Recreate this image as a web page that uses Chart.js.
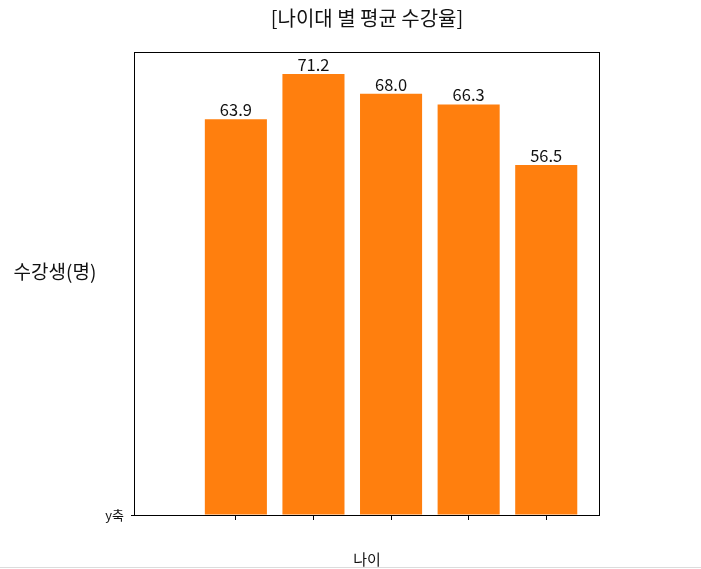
<!DOCTYPE html>
<html>
<head>
<meta charset="utf-8">
<script src="https://cdn.jsdelivr.net/npm/chart.js@4.4.0/dist/chart.umd.min.js"></script>
<style>
  html, body { margin: 0; padding: 0; background: #fff; }
  #wrap { position: relative; width: 701px; height: 569px; }
  #bottomLine { position: absolute; left: 0; top: 567px; width: 701px; height: 1px; background: #dcdcdc; }
</style>
</head>
<body>
<div id="wrap">
  <canvas id="chart" width="701" height="569"></canvas>
  <div id="bottomLine"></div>
</div>
<script>
// Chart data
const barPositions = [0, 1, 2, 3, 4];
const avgRates = [63.9, 71.2, 68.0, 66.3, 56.5];
const xTickLabels = ['', '', '', '', ''];
const yTickValues = [0];
const yTickLabels = ['y축'];

const FONT = '"Noto Sans CJK KR", "Noto Sans", sans-serif';

// Frame around the plot area, titles and value labels
const extrasPlugin = {
    id: 'extras',
    afterDraw(chart) {
        const c = chart.ctx;
        const a = chart.chartArea;
        c.save();
        c.strokeStyle = '#000';
        c.lineWidth = 1;
        c.strokeRect(Math.round(a.left) - 0.5, Math.round(a.top) + 0.5,
            Math.round(a.right - a.left) + 1, Math.round(a.bottom - a.top));

        c.fillStyle = '#111';
        c.textAlign = 'center';
        c.textBaseline = 'middle';

        // chart title, centred over the plot area
        c.font = '20px ' + FONT;
        c.fillText('[나이대 별 평균 수강율]', (a.left + a.right) / 2, 18);

        // horizontal y-axis title
        c.font = '19px ' + FONT;
        c.fillText('수강생(명)', 55, 272);

        // value labels above each bar
        c.font = '16.5px ' + FONT;
        c.textBaseline = 'alphabetic';
        chart.getDatasetMeta(0).data.forEach((bar, i) => {
            c.fillText(avgRates[i].toFixed(1), bar.x, bar.y - 3);
        });
        c.restore();
    }
};

const ctx = document.getElementById('chart').getContext('2d');
const chart = new Chart(ctx, {
    type: 'bar',
    data: {
        datasets: [{
            data: barPositions.map((x, i) => ({ x: x, y: avgRates[i] })),
            backgroundColor: '#ff7f0e',
            borderWidth: 0,
            barPercentage: 0.8,
            categoryPercentage: 1.0
        }]
    },
    options: {
        responsive: false,
        animation: false,
        layout: { padding: { left: 0, right: 102, top: 52, bottom: 0 } },
        plugins: {
            legend: { display: false },
            tooltip: { enabled: false },
            title: { display: false }
        },
        scales: {
            x: {
                type: 'linear',
                offset: false,
                min: -1.30,
                max: 4.68,
                afterBuildTicks: (scale) => {
                    scale.ticks = barPositions.map(v => ({ value: v }));
                },
                afterFit: (scale) => { scale.height = 54; },
                ticks: {
                    callback: (v, i) => xTickLabels[i] ?? '',
                    font: { family: FONT, size: 12 },
                    color: '#111'
                },
                grid: { offset: false, drawOnChartArea: false, drawTicks: true, tickLength: 5, color: '#000' },
                border: { display: false },
                title: {
                    display: true,
                    text: '나이',
                    color: '#111',
                    font: { family: FONT, size: 15 },
                    padding: { top: 4, bottom: 1 }
                }
            },
            y: {
                min: 0,
                max: 74.76,
                afterBuildTicks: (scale) => {
                    scale.ticks = yTickValues.map(v => ({ value: v }));
                },
                afterFit: (scale) => { scale.width = 135; },
                ticks: {
                    callback: (v, i) => yTickLabels[i] ?? '',
                    font: { family: FONT, size: 13 },
                    color: '#111',
                    padding: 7
                },
                grid: { drawOnChartArea: false, drawTicks: true, tickLength: 4, color: '#000' },
                border: { display: false }
            }
        }
    },
    plugins: [extrasPlugin]
});
</script>
</body>
</html>
